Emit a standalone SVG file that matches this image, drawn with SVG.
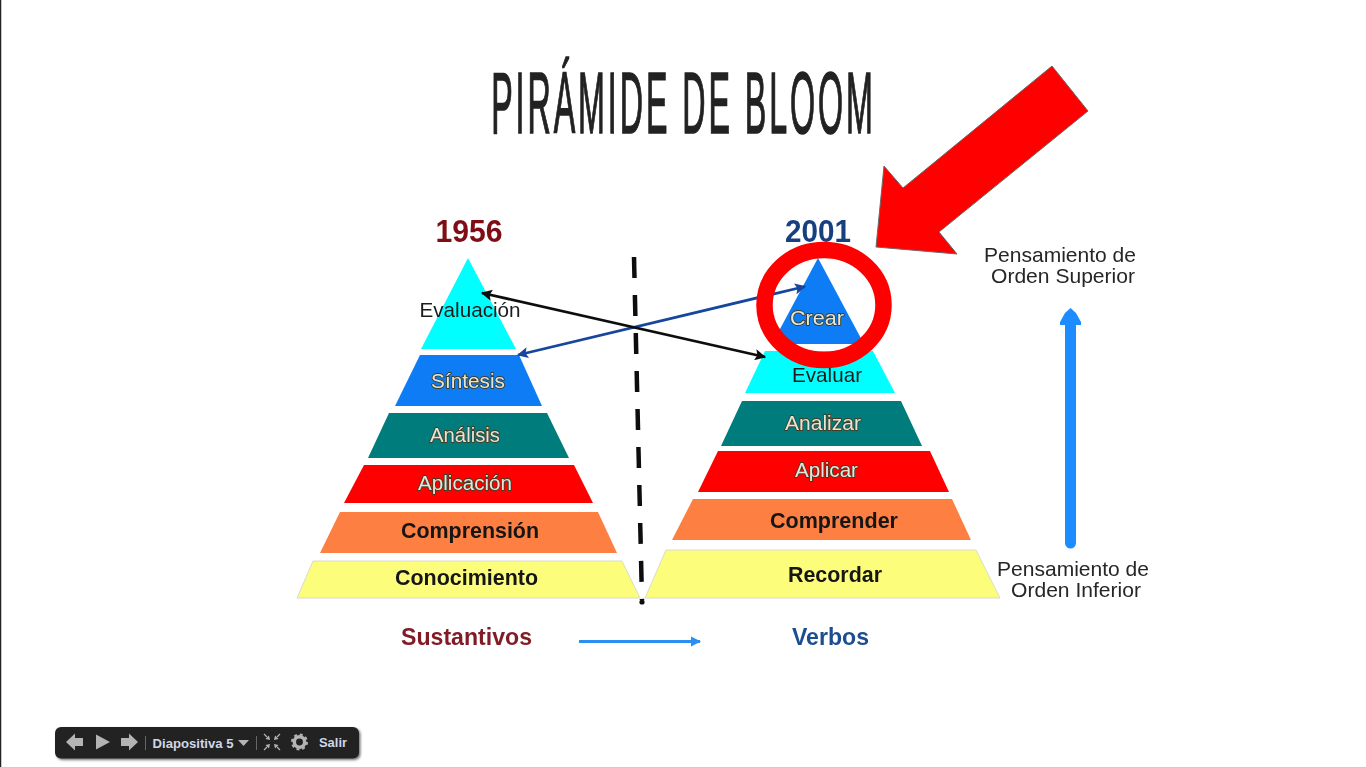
<svg xmlns="http://www.w3.org/2000/svg" width="1366" height="768" viewBox="0 0 1366 768">
<style>
text{font-family:"Liberation Sans",Arial,sans-serif}
.c{text-anchor:middle}
.b{font-weight:700;font-size:22px;fill:#141414}
.o{font-size:21px;fill:#e4e6da;stroke:#3e3e28;stroke-width:1.8px;paint-order:stroke;stroke-linejoin:round}
.n{font-size:21px;fill:#1c1c1c}
.s{font-size:21px;fill:#262626}
.cy{fill:#00ffff}.bl{fill:#0a7cf5}.te{fill:#047c7c}.re{fill:#ff0000}.or{fill:#fd7f42}.ye{fill:#fdfd7c;stroke:#d8dcc8;stroke-width:1}
.tb{fill:#b4b4b4}
</style>
<defs>
<filter id="soft" x="-5%" y="-5%" width="110%" height="110%"><feGaussianBlur stdDeviation="0.5"/></filter>
<filter id="sh" x="-5%" y="-20%" width="110%" height="150%"><feDropShadow dx="1.5" dy="1.5" stdDeviation="1.2" flood-color="#000" flood-opacity=".55"/></filter>
<marker id="ak" viewBox="0 0 10 10" refX="9" refY="5" markerWidth="4" markerHeight="4" orient="auto-start-reverse"><path d="M0 0L10 5L0 10L2 5Z" fill="#111"/></marker>
<marker id="ab" viewBox="0 0 10 10" refX="9" refY="5" markerWidth="4" markerHeight="4" orient="auto-start-reverse"><path d="M0 0L10 5L0 10L2 5Z" fill="#15479c"/></marker>
<marker id="al" viewBox="0 0 10 10" refX="9" refY="5" markerWidth="3.4" markerHeight="3.4" orient="auto"><path d="M0 0L10 5L0 10Z" fill="#2a8ff0"/></marker>
</defs>
<rect width="1366" height="768" fill="#fff"/>
<path d="M0.5 0V768" stroke="#222" stroke-width="1.5"/>
<path d="M0 767.5H1366" stroke="#ccc" stroke-width="1"/>
<g id="title"><text transform="translate(683.500 133) scale(.37 1)" class="c" font-size="87" letter-spacing="8" fill="#222" stroke="#222" stroke-width="1.500">PIRÁMIDE DE BLOOM</text></g>

<g filter="url(#soft)">
<g id="year-1956"><text x="469" y="242" class="c" font-size="32" font-weight="700" fill="#7f1018" textLength="67" lengthAdjust="spacingAndGlyphs">1956</text></g>
<g id="year-2001"><text x="818" y="242" class="c" font-size="32" font-weight="700" fill="#153f80" textLength="66" lengthAdjust="spacingAndGlyphs">2001</text></g>

<g id="evaluacion"><polygon class="cy" points="468,258 516,349 421,349"/><text class="n c" x="470" y="317" textLength="101" lengthAdjust="spacingAndGlyphs">Evaluación</text></g>
<g id="sintesis"><polygon class="bl" points="420,355 519,355 542,406 395,406"/><text class="o c" x="468" y="388" textLength="74" lengthAdjust="spacingAndGlyphs">Síntesis</text></g>
<g id="analisis"><polygon class="te" points="389,413 547,413 569,458 368,458"/><text class="o c" x="465" y="442" textLength="70" lengthAdjust="spacingAndGlyphs">Análisis</text></g>
<g id="aplicacion"><polygon class="re" points="364,465 574,465 593,503 344,503"/><text class="o c" x="465" y="490" textLength="94" lengthAdjust="spacingAndGlyphs">Aplicación</text></g>
<g id="comprension"><polygon class="or" points="340,512 598,512 617,553 320,553"/><text class="b c" x="470" y="538" textLength="138" lengthAdjust="spacingAndGlyphs">Comprensión</text></g>
<g id="conocimiento"><polygon class="ye" points="313,561 622,561 640,598 297,598"/><text class="b c" x="466.500" y="585" textLength="143" lengthAdjust="spacingAndGlyphs">Conocimiento</text></g>

<g id="crear"><polygon class="bl" points="818,258 864,344 772,344"/><text class="o c" x="817" y="325" textLength="54" lengthAdjust="spacingAndGlyphs">Crear</text></g>
<g id="evaluar"><polygon class="cy" points="765,351 873,351 895,393 745,393"/><text class="n c" x="827" y="382" textLength="70" lengthAdjust="spacingAndGlyphs">Evaluar</text></g>
<g id="analizar"><polygon class="te" points="742,401 901,401 922,446 721,446"/><text class="o c" x="823" y="430" textLength="76" lengthAdjust="spacingAndGlyphs">Analizar</text></g>
<g id="aplicar"><polygon class="re" points="718,451 930,451 949,492 698,492"/><text class="o c" x="826.500" y="477" textLength="63" lengthAdjust="spacingAndGlyphs">Aplicar</text></g>
<g id="comprender"><polygon class="or" points="693,499 952,499 971,540 672,540"/><text class="b c" x="834" y="528" textLength="128" lengthAdjust="spacingAndGlyphs">Comprender</text></g>
<g id="recordar"><polygon class="ye" points="666,550 976,550 1000,598 645,598"/><text class="b c" x="835" y="582" textLength="94" lengthAdjust="spacingAndGlyphs">Recordar</text></g>

<g id="pensamiento-superior"><text class="s c" x="1060" y="262" textLength="152" lengthAdjust="spacingAndGlyphs">Pensamiento de</text><text class="s c" x="1063" y="283" textLength="144" lengthAdjust="spacingAndGlyphs">Orden Superior</text></g>
<g id="pensamiento-inferior"><text class="s c" x="1073" y="576" textLength="152" lengthAdjust="spacingAndGlyphs">Pensamiento de</text><text class="s c" x="1076" y="597" textLength="130" lengthAdjust="spacingAndGlyphs">Orden Inferior</text></g>
<g id="sustantivos"><text x="466.500" y="645" class="c" font-size="24" font-weight="700" fill="#7f1a25" textLength="131" lengthAdjust="spacingAndGlyphs">Sustantivos</text></g>
<g id="verbos"><text x="830.500" y="645" class="c" font-size="24" font-weight="700" fill="#1e4d8f" textLength="77" lengthAdjust="spacingAndGlyphs">Verbos</text></g>

<g id="connectors">
<path d="M634 257L642 600" fill="none" stroke="#111" stroke-width="4.500" stroke-dasharray="21 17"/>
<circle cx="642" cy="602" r="2.600" fill="#111"/>
<path d="M805 286.500L518 355" fill="none" stroke="#15479c" stroke-width="2.800" marker-start="url(#ab)" marker-end="url(#ab)"/>
<path d="M482 293L765 357" fill="none" stroke="#111" stroke-width="2.800" marker-start="url(#ak)" marker-end="url(#ak)"/>
<path d="M579 641.500H700" fill="none" stroke="#2a8ff0" stroke-width="3" marker-end="url(#al)"/>
<path d="M1070.500 543V322" fill="none" stroke="#1e8cff" stroke-width="11" stroke-linecap="round"/>
<polygon points="1060,322 1065,313 1070.500,308 1076,313 1081,322 1081,325 1060,325" fill="#1e8cff"/>
</g>
</g>

<g id="red-arrow"><polygon points="1052,66 1088,111 939,232 957,254 876,247 884,166 903,188" fill="#ff0000" stroke="#6a6a6a" stroke-width="1"/></g>
<g id="red-ring"><ellipse cx="824" cy="305" rx="59.500" ry="55" fill="none" stroke="#ff0000" stroke-width="16.500"/></g>

<g id="toolbar">
<rect x="55" y="727" width="304" height="31.500" rx="6" fill="#222" filter="url(#sh)"/>
<path class="tb" d="M66 742L75 733.500V738H83V746H75V750.500Z"/>
<path class="tb" d="M96 734.500L110 742L96 749.500Z"/>
<path class="tb" d="M138 742L129 733.500V738H121V746H129V750.500Z"/>
<path d="M145.500 736V750M256.500 736V750" stroke="#666" stroke-width="1"/>
<text x="152.500" y="748" font-size="12" font-weight="700" fill="#cfd8e8" textLength="81" lengthAdjust="spacingAndGlyphs">Diapositiva 5</text>
<path class="tb" d="M238 740H249L243.500 746Z"/>
<path d="M264 734L267 737M280 734L277 737M264 750L267 747M280 750L277 747" stroke="#b4b4b4" stroke-width="1.200" fill="none"/>
<path class="tb" d="M270 740L265.500 739L269 735.500ZM274 740L278.500 739L275 735.500ZM270 744L265.500 745L269 748.500ZM274 744L278.500 745L275 748.500Z"/>
<circle cx="299.500" cy="742" r="5.200" fill="none" stroke="#b4b4b4" stroke-width="3.500"/>
<circle cx="299.500" cy="742" r="7.500" fill="none" stroke="#b4b4b4" stroke-width="2" stroke-dasharray="3 2.900"/>
<text x="319" y="747" font-size="12" font-weight="700" fill="#cfd8e8" textLength="28" lengthAdjust="spacingAndGlyphs">Salir</text>
</g>
</svg>
